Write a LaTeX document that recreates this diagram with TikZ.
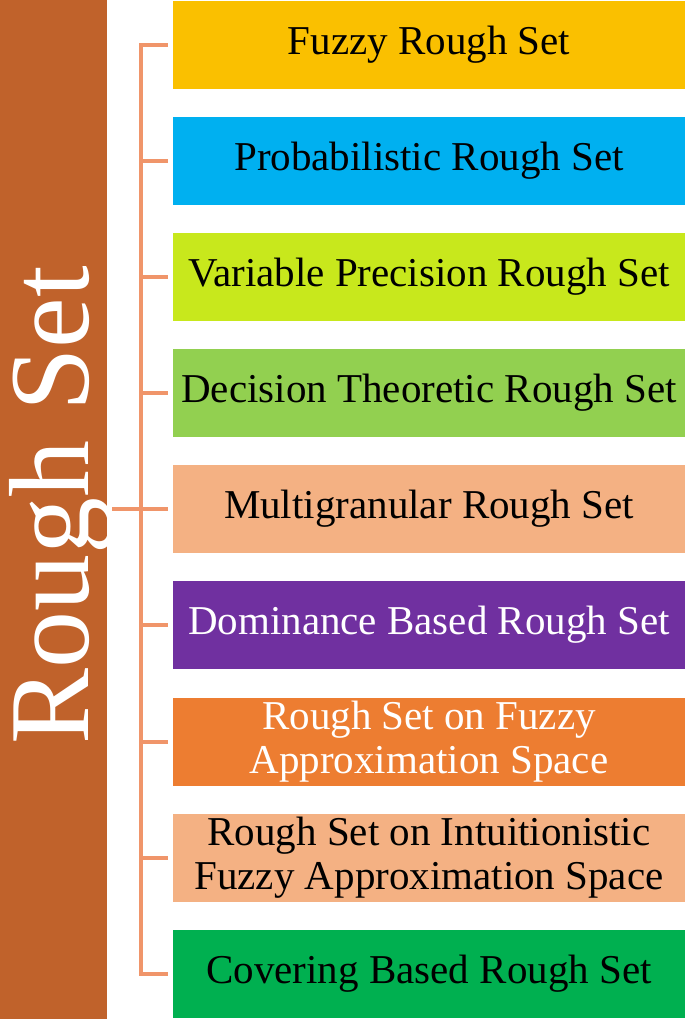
\documentclass[tikz,border=0pt]{standalone}
\usepackage{fontspec}
\setmainfont{Liberation Serif}

\definecolor{barbrown}{HTML}{C0622B}
\definecolor{linkorange}{HTML}{F0956A}
\definecolor{cyellow}{HTML}{FAC000}
\definecolor{cblue}{HTML}{00B0F0}
\definecolor{clime}{HTML}{C8E81C}
\definecolor{cgreen}{HTML}{92D050}
\definecolor{cpeach}{HTML}{F4B183}
\definecolor{cpurple}{HTML}{7030A0}
\definecolor{corange}{HTML}{ED7D31}
\definecolor{cdgreen}{HTML}{00B050}

\tikzset{
    kind/.style={rectangle, minimum width=512pt, minimum height=88pt,
        inner sep=0pt, align=center, font=\fontsize{41}{44}\selectfont},
    link/.style={linkorange, line width=4pt}
}

\begin{document}
\begin{tikzpicture}[x=1pt, y=-1pt]
    \useasboundingbox (0,0) rectangle (685,1019);

    \node[fill=barbrown, minimum width=107pt, minimum height=1019pt,
        inner sep=0pt, anchor=north west] (bar) at (0,0) {};
    \node[rotate=90, anchor=base, text=white,
        font=\fontsize{114}{114}\selectfont] (title) at (88,505) {Rough Set};

    \node[kind, fill=cyellow] (fuzzy) at (429,45) {Fuzzy Rough Set};
    \node[kind, fill=cblue] (prob) at (429,161) {Probabilistic Rough Set};
    \node[kind, fill=clime] (vprs) at (429,277) {Variable Precision Rough Set};
    \node[kind, fill=cgreen] (dtrs) at (429,393) {Decision Theoretic Rough Set};
    \node[kind, fill=cpeach] (multi) at (429,509) {Multigranular Rough Set};
    \node[kind, fill=cpurple, text=white] (dom) at (429,625) {Dominance Based Rough Set};
    \node[kind, fill=corange, text=white] (rsfas) at (429,742)
        {Rough Set on Fuzzy\\Approximation Space};
    \node[kind, fill=cpeach] (rsifas) at (429,858)
        {Rough Set on Intuitionistic\\Fuzzy Approximation Space};
    \node[kind, fill=cdgreen] (cover) at (429,974) {Covering Based Rough Set};

    % bracket
    \coordinate (spine) at (141,509);
    \draw[link, shorten <=5pt] (bar.east |- spine) -- (spine);
    \foreach \k in {fuzzy, prob, vprs, dtrs, multi, dom, rsfas, rsifas, cover}
        \draw[link, shorten >=5pt] (spine) |- (\k.west);
\end{tikzpicture}
\end{document}
